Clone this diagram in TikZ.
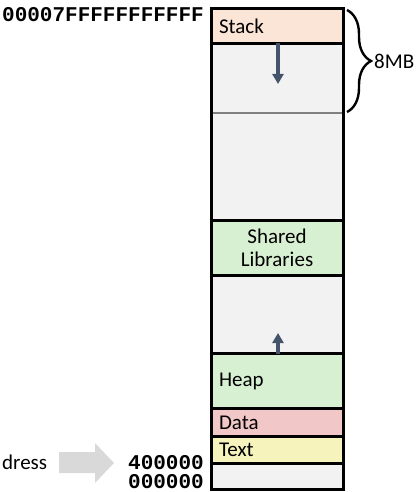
\documentclass[tikz,border=0pt]{standalone}
\usepackage{fontspec}
\setmainfont{Carlito}
\newfontfamily\hexfont{Liberation Mono}
\usetikzlibrary{positioning,arrows.meta,decorations.pathreplacing}
\definecolor{stackc}{HTML}{FBE5D6}
\definecolor{gapc}{HTML}{F2F2F2}
\definecolor{libc}{HTML}{D8F0D2}
\definecolor{datac}{HTML}{F2C7C7}
\definecolor{textc}{HTML}{F7F3BD}
\definecolor{growc}{HTML}{44546A}
\definecolor{addrc}{HTML}{D9D9D9}
\tikzset{
  seg/.style={draw=black, line width=3pt, outer sep=0pt, inner xsep=8pt, inner ysep=0pt,
    text width=116pt, align=left, font=\fontsize{21}{26}\selectfont},
  growarrow/.style={draw=growc, line width=3.2pt, -{Triangle[width=11pt,length=10pt]}},
  hex/.style={anchor=east, inner sep=0pt, font=\hexfont\bfseries\fontsize{21}{21}\selectfont}
}
\begin{document}
\begin{tikzpicture}[x=1pt, y=-1pt]
 	\useasboundingbox (0,0) rectangle (415,492);
 	% memory column
 	\node[seg, fill=stackc, minimum height=34.5pt, anchor=north west] (stack) at (211,9) {Stack};
 	\node[seg, fill=gapc, minimum height=177pt, below=0pt of stack] (free1) {};
 	\node[seg, fill=libc, minimum height=55pt, below=0pt of free1, align=center] (shlib) {Shared\\[-3pt]Libraries};
 	\node[seg, fill=gapc, minimum height=78pt, below=0pt of shlib] (free2) {};
 	\node[seg, fill=libc, minimum height=55pt, below=0pt of free2] (heap) {Heap};
 	\node[seg, fill=datac, minimum height=28pt, below=0pt of heap] (data) {Data};
 	\node[seg, fill=textc, minimum height=27pt, below=0pt of data] (text) {Text};
 	\node[seg, fill=gapc, minimum height=26pt, below=0pt of text] (bottom) {};
 	% stack limit
 	\coordinate (limA) at (212.5,113);
 	\coordinate (limB) at (341.5,113);
 	\draw[gray, line width=2.4pt] (limA) -- (limB);
 	% growth arrows
 	\coordinate (sdown) at (278,84);
 	\coordinate (hup) at (278,333);
 	\draw[growarrow] (stack.south -| sdown) -- (sdown);
 	\draw[growarrow] (heap.north -| hup) -- (hup);
 	% 8MB brace
 	\coordinate (brA) at (347,10);
 	\coordinate (brB) at (347,112);
 	\draw[decorate, decoration={brace, amplitude=24pt}, line width=2.4pt] (brA) -- (brB);
 	\node[anchor=west, inner sep=0pt, font=\fontsize{21}{21}\selectfont] (mb) at (374,61) {8MB};
 	% addresses
 	\node[hex] (top) at (204,15) {00007FFFFFFFFFFF};
 	\node[hex] (start) at (204,463) {400000};
 	\node[hex] (zero) at (204,482) {000000};
 	\node[anchor=west, inner sep=0pt, font=\fontsize{21}{21}\selectfont] (dress) at (2,462) {dress};
 	\fill[addrc] (59,452) -- (95,452) -- (95,443) -- (114,463) -- (95,483) -- (95,473) -- (59,473) -- cycle;
\end{tikzpicture}
\end{document}
